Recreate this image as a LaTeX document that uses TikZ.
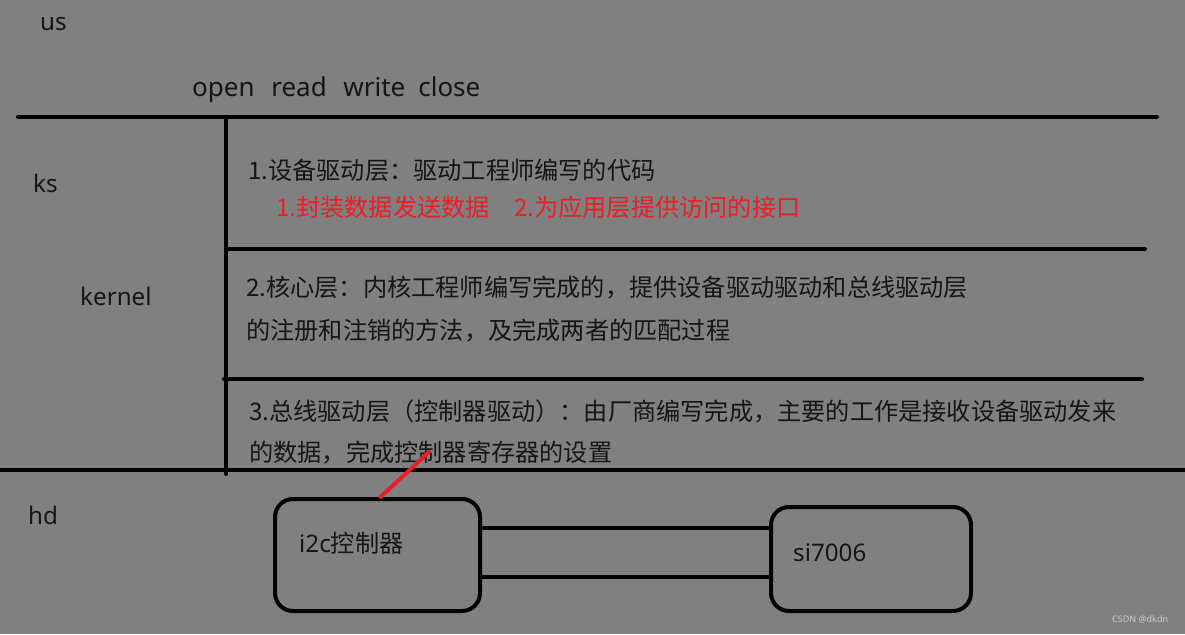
\documentclass[tikz,border=0pt]{standalone}
\usepackage{fontspec}
\setmainfont{Noto Sans}
\newfontfamily\cjk{Noto Sans CJK SC}
\definecolor{bg}{RGB}{128,128,128}
\definecolor{ink}{RGB}{22,22,22}
\definecolor{redink}{RGB}{237,30,40}
\definecolor{wm}{RGB}{205,205,205}
\newcommand{\fsz}{\fontsize{24.2}{29}\selectfont}
\begin{document}
\begin{tikzpicture}[x=1pt,y=-1pt,
  lbl/.style={anchor=west, inner sep=0pt, font=\fsz, text=ink},
  cjklbl/.style={lbl, font=\fsz\cjk},
  redlbl/.style={cjklbl, text=redink},
  rule/.style={draw=black, line width=4pt, line cap=round},
  hwbox/.style={draw=black, line width=4pt, rounded corners=18pt, inner sep=0pt},
  wire/.style={draw=black, line width=4pt},
  redwire/.style={draw=redink, line width=4pt, line cap=round}]
\fill[bg] (0,0) rectangle (1185,634);
\useasboundingbox (0,0) rectangle (1185,634);
% layer rules
\draw[rule] (18,117) -- (1157,117);
\draw[rule] (228,249) -- (1145,249);
\draw[rule] (224,379) -- (1142,379);
\draw[draw=black, line width=4pt] (0,470) -- (1185,470);
\draw[rule] (226,117) -- (226,474);
% side labels
\node[lbl] (us) at (40,24) {us};
\node[lbl] (ks) at (33,183) {ks};
\node[lbl] (kernel) at (80,296) {kernel};
\node[lbl] (hd) at (28,515) {hd};
\node[lbl, font=\fontsize{26}{30}\selectfont] (api) at (192,90) {open\hspace{0.64em}read\hspace{0.64em}write\hspace{0.5em}close};
% layer texts
\node[cjklbl] (t1) at (248,170) {1.设备驱动层：驱动工程师编写的代码};
\node[redlbl] (t1r) at (276,207) {1.封装数据发送数据\hspace{1em}2.为应用层提供访问的接口};
\node[cjklbl] (t2a) at (246,288) {2.核心层：内核工程师编写完成的，提供设备驱动驱动和总线驱动层};
\node[cjklbl] (t2b) at (246,331) {的注册和注销的方法，及完成两者的匹配过程};
\node[cjklbl] (t3a) at (249,411) {3.总线驱动层（控制器驱动）：由厂商编写完成，主要的工作是接收设备驱动发来};
\node[cjklbl] (t3b) at (249,453) {的数据，完成控制器寄存器的设置};
% hardware boxes
\node[hwbox, minimum width=205pt, minimum height=112pt] (i2c) at (377.5,555) {};
\node[lbl] (i2ct) at (299,543) {i2c{\cjk 控制器}};
\node[hwbox, minimum width=200pt, minimum height=104pt] (si) at (871,559) {};
\node[lbl] (sit) at (793,553) {si7006};
% connectors
\draw[wire] (i2c.east |- 0,528) -- (si.west |- 0,528);
\draw[wire] (i2c.east |- 0,577) -- (si.west |- 0,577);
\coordinate (redend) at (429,452);
\draw[redwire] ([xshift=3pt]i2c.north) -- (redend);
% watermark
\node[anchor=west, inner sep=0pt, font=\fontsize{9}{10}\selectfont, text=wm] (wmk) at (1112,619) {CSDN @dkdn};
\end{tikzpicture}
\end{document}
